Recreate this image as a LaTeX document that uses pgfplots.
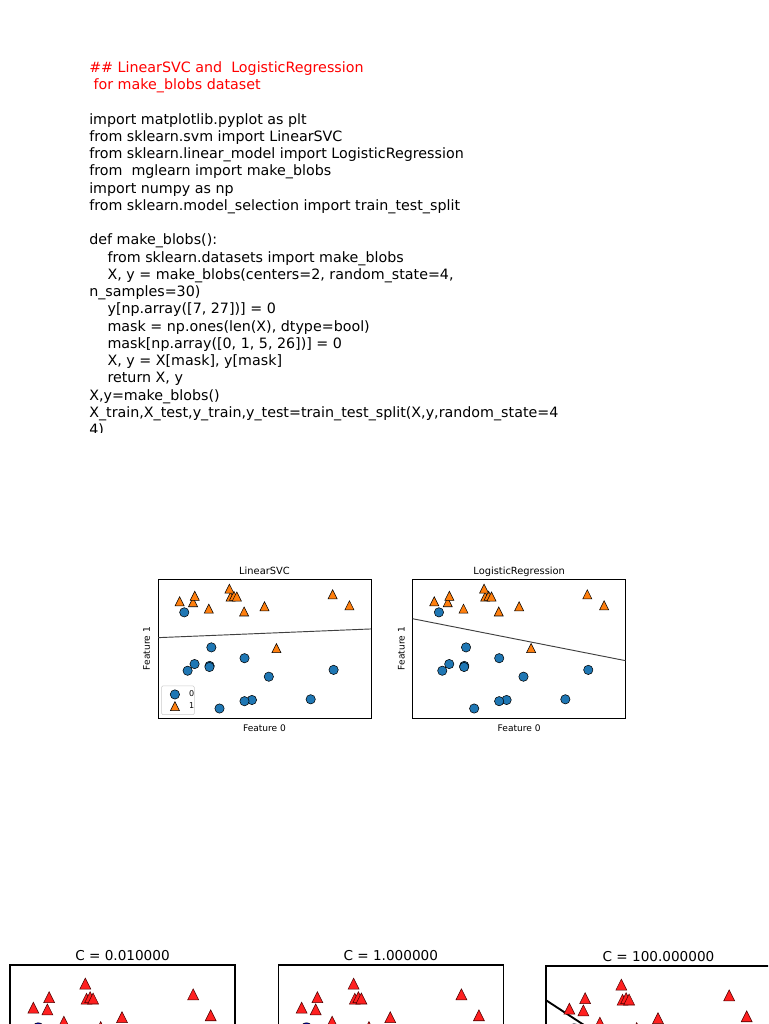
\documentclass[border=0pt]{standalone}
\usepackage{fontspec}
\setmainfont{DejaVu Sans}
\usepackage{pgfplots}
\pgfplotsset{compat=1.18}
\definecolor{mblue}{HTML}{1F77B4}
\definecolor{morange}{HTML}{FF7F0E}
\definecolor{dblue}{HTML}{0000AA}
\definecolor{mred}{HTML}{FF2020}
\pgfdeclareplotmark{mtri}{%
  \pgfpathmoveto{\pgfqpoint{0pt}{\pgfplotmarksize}}%
  \pgfpathlineto{\pgfqpoint{-\pgfplotmarksize}{-\pgfplotmarksize}}%
  \pgfpathlineto{\pgfqpoint{\pgfplotmarksize}{-\pgfplotmarksize}}%
  \pgfpathclose
  \pgfusepathqfillstroke
}
\pgfplotstableread{
x y
11.0329545 -0.16816717
8.69289001 1.54322016
8.1062269 4.28695977
9.67284681 -0.20283165
8.68937095 1.48709629
8.92229526 -0.63993225
8.18378052 1.29564214
8.7337095 2.49162431
10.06393839 0.99078055
9.50048972 -0.26430318
8.34468785 1.63824349
9.50169345 1.93824624
11.563957 1.3389402
}\classzero
\pgfplotstableread{
x y
9.96346605 4.59676542
11.54155807 5.21116083
8.30988863 4.80623966
11.93027136 4.64866327
8.34810316 5.13415623
8.67494727 4.47573059
9.17748385 5.09283177
10.24028948 2.45544401
9.49123469 4.33224792
9.25694192 5.13284858
7.99815287 4.8525051
9.32298256 5.09840649
9.15072323 5.49832246
}\classone
\pgfplotsset{
  midplot/.style={
    scale only axis, width=159.75pt, height=104.5pt,
    xmin=7.498, xmax=12.430, ymin=-1.140, ymax=5.998,
    xtick=\empty, ytick=\empty,
    axis line style={line width=0.6pt, black},
    every axis title/.style={at={(axis description cs:0.5,1)}, anchor=base, yshift=3.3pt, inner sep=0pt, font=\fontsize{7.4}{8}\selectfont},
    every axis x label/.style={at={(axis description cs:0.5,-0.0933)}, anchor=base, inner sep=0pt, font=\fontsize{6.8}{8}\selectfont},
    every axis y label/.style={at={(axis description cs:-0.0376,0.5)}, rotate=90, anchor=base, inner sep=0pt, font=\fontsize{6.8}{8}\selectfont},
    xlabel={Feature 0}, ylabel={Feature 1},
  },
  botplot/.style={
    scale only axis, width=168.75pt, height=199.5pt,
    xmin=7.48, xmax=12.47, ymin=-1.14, ymax=5.998,
    xtick=\empty, ytick=\empty,
    axis line style={line width=0.8pt, black},
    every axis title/.style={at={(axis description cs:0.5,1)}, anchor=base, yshift=3.4pt, inner sep=0pt, font=\fontsize{10.2}{12}\selectfont},
  },
  c0mid/.style={only marks, mark=*, mark size=3.5pt, mark options={fill=mblue, draw=black, line width=0.4pt}},
  c1mid/.style={only marks, mark=mtri, mark size=3.4pt, mark options={fill=morange, draw=black, line width=0.4pt}},
  c0bot/.style={only marks, mark=*, mark size=4.5pt, mark options={fill=dblue, draw=black, line width=0.4pt}},
  c1bot/.style={only marks, mark=mtri, mark size=4.1pt, mark options={fill=mred, draw=black!70!red, line width=0.4pt}},
}
\begin{document}
\begin{tikzpicture}
\path[use as bounding box] (0pt,0pt) rectangle (576pt,-768pt);
\clip (0pt,0pt) rectangle (576pt,-768pt);
\fill[white] (0pt,0pt) rectangle (576pt,-768pt);
\begin{scope}[x=0.75pt,y=-0.75pt]
\clip (0,0) rectangle (768,432);
\begin{scope}[every node/.style={anchor=base west, inner sep=0pt, font=\fontsize{10.7}{12.9}\selectfont}]
\node[text=red] at (89,72.3) {\#\# LinearSVC and\ \ LogisticRegression};
\node[text=red] at (93.3,89.55) {for make\_blobs dataset};
\node at (89,124.05) {import matplotlib.pyplot as plt};
\node at (89,141.3) {from sklearn.svm import LinearSVC};
\node at (89,158.55) {from sklearn.linear\_model import LogisticRegression};
\node at (89,175.8) {from\ \ mglearn import make\_blobs};
\node at (89,193.05) {import numpy as np};
\node at (89,210.3) {from sklearn.model\_selection import train\_test\_split};
\node at (89,244.8) {def make\_blobs():};
\node at (107.3,262.05) {from sklearn.datasets import make\_blobs};
\node at (107.3,279.3) {X, y = make\_blobs(centers=2, random\_state=4,};
\node at (89,296.55) {n\_samples=30)};
\node at (107.3,313.8) {y[np.array([7, 27])] = 0};
\node at (107.3,331.05) {mask = np.ones(len(X), dtype=bool)};
\node at (107.3,348.3) {mask[np.array([0, 1, 5, 26])] = 0};
\node at (107.3,365.55) {X, y = X[mask], y[mask]};
\node at (107.3,382.8) {return X, y};
\node at (89,400.05) {X,y=make\_blobs()};
\node at (89,417.3) {X\_train,X\_test,y\_train,y\_test=train\_test\_split(X,y,random\_state=4};
\node at (89,434.55) {4)};
\end{scope}
\end{scope}

% LinearSVC
\begin{axis}[midplot, at={(118.5pt,-538.7pt)}, anchor=south west, title={LinearSVC},
  legend style={at={(0.0155,0.0237)}, anchor=south west, font=\fontsize{6}{6}\selectfont, draw=black!20, rounded corners=1pt, inner xsep=0pt, inner ysep=2pt, row sep=0pt, column sep=0pt, nodes={inner sep=0pt}},
  legend cell align=left,
  legend image code/.code={\path[draw=none,fill=none] (-10pt,-4.4pt) rectangle (10.75pt,4.4pt); \draw[#1] plot coordinates {(0pt,0pt)};}]
\addplot[c0mid] table {\classzero};
\addlegendentry{0\hspace{5.8pt}}
\addplot[c1mid] table {\classone};
\addlegendentry{1\hspace{5.8pt}}
\addplot[black!75, line width=0.7pt, forget plot] coordinates {(7.498,2.99) (12.43,3.436)};
\end{axis}

% LogisticRegression
\begin{axis}[midplot, at={(309.5pt,-538.7pt)}, anchor=south west, title={LogisticRegression}]
\addplot[c0mid] table {\classzero};
\addplot[c1mid] table {\classone};
\addplot[black!75, line width=0.7pt] coordinates {(7.498,3.96) (12.43,1.81)};
\end{axis}

% bottom row
\begin{axis}[botplot, at={(7.5pt,-723.75pt)}, anchor=north west, title={C = 0.010000}]
\addplot[c0bot] table {\classzero};
\addplot[c1bot] table {\classone};
\end{axis}
\begin{axis}[botplot, at={(208.7pt,-723.75pt)}, anchor=north west, title={C = 1.000000}]
\addplot[c0bot] table {\classzero};
\addplot[c1bot] table {\classone};
\end{axis}
\begin{axis}[botplot, at={(409.5pt,-724.5pt)}, anchor=north west, title={C = 100.000000}]
\addplot[c0bot] table {\classzero};
\addplot[c1bot] table {\classone};
\addplot[black, line width=1.4pt] coordinates {(7.48,5.08) (12.47,1.14)};
\end{axis}
\end{tikzpicture}
\end{document}
